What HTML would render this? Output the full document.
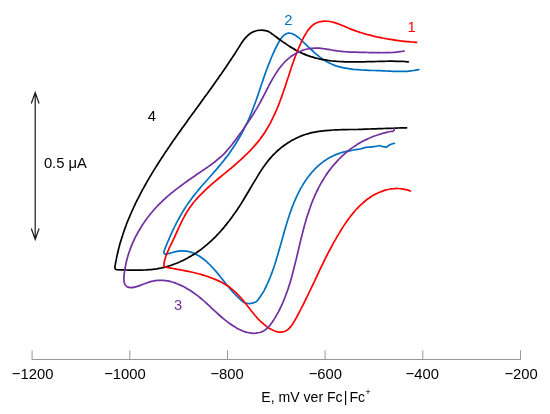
<!DOCTYPE html>
<html lang="en">
<head>
<meta charset="utf-8">
<title>Cyclic voltammograms</title>
<style>
html,body{margin:0;padding:0;background:#fff;}
body{width:550px;height:414px;overflow:hidden;font-family:"Liberation Sans",sans-serif;}
svg{display:block;}
text{font-family:"Liberation Sans",sans-serif;font-size:14.8px;fill:#000;}
.c{fill:none;stroke-width:1.7;stroke-linejoin:round;stroke-linecap:round;}
</style>
</head>
<body>
<svg width="550" height="414" viewBox="0 0 550 414">
<rect width="550" height="414" fill="#fff"/>
<!-- axis -->
<path d="M31.6 359.5H521M32.1 350.3V359.5M129.8 350.3V359.5M227.5 350.3V359.5M325.1 350.3V359.5M422.8 350.3V359.5M520.5 350.3V359.5" fill="none" stroke="#979797" stroke-width="1"/>
<g>
<text transform="translate(32.6 378.8) scale(1 1.05)" text-anchor="middle">−1200</text>
<text transform="translate(124.9 378.8) scale(1 1.05)" text-anchor="middle">−1000</text>
<text transform="translate(227.1 378.8) scale(1 1.05)" text-anchor="middle">−800</text>
<text transform="translate(325.3 378.8) scale(1 1.05)" text-anchor="middle">−600</text>
<text transform="translate(422.2 378.8) scale(1 1.05)" text-anchor="middle">−400</text>
<text transform="translate(521.1 378.8) scale(1 1.05)" text-anchor="middle">−200</text>
</g>
<text transform="translate(261.3 402.3) scale(1 1.05)" style="font-size:14.1px">E, mV ver Fc<tspan dx="1">|</tspan><tspan dx="2.1">Fc</tspan><tspan dx="0.2" dy="-6.5" style="font-size:9.5px">+</tspan></text>
<!-- scale arrow -->
<path d="M35.2 92.5V239.5M31.3 103.5L35.2 92.5L39.1 103.5M31.3 228.5L35.2 239.5L39.1 228.5" fill="none" stroke="#1a1a1a" stroke-width="1.2" stroke-linejoin="miter"/>
<text transform="translate(43.9 167.9) scale(1 1.05)">0.5 μA</text>
<!-- curves -->
<path class="c" stroke="#0070c0" d="M394.3 143.3C393.7 143.5 391.7 144.1 390.7 144.5C389.7 144.9 388.9 145.4 388.2 145.8C387.5 146.2 386.9 147.0 386.3 147.2C385.7 147.4 385.1 146.9 384.4 146.8C383.6 146.7 382.6 146.6 381.8 146.4C381.1 146.2 380.5 145.6 379.9 145.5C379.3 145.4 378.9 145.8 378.0 146.0C377.1 146.2 375.7 146.4 374.2 146.6C372.7 146.8 370.8 146.9 369.1 147.1C367.4 147.3 365.3 147.5 364.0 147.8C362.7 148.1 362.6 148.4 361.5 148.7C360.4 149.0 358.9 149.2 357.6 149.4C356.3 149.6 355.1 149.8 353.8 150.0C352.5 150.2 350.5 150.7 349.8 150.8C349.1 150.9 346.8 151.3 345.4 151.6C344.0 152.0 342.6 152.3 341.2 152.7C339.9 153.2 338.5 153.6 337.2 154.1C335.9 154.6 334.7 155.1 333.4 155.7C332.2 156.3 331.0 156.9 329.8 157.6C328.6 158.2 327.4 158.9 326.3 159.6C325.2 160.4 324.1 161.1 323.0 161.9C321.9 162.7 320.9 163.5 319.9 164.4C318.9 165.2 317.9 166.1 316.9 167.0C316.0 168.0 315.0 168.9 314.1 169.9C313.2 170.8 312.3 171.8 311.4 172.8C310.6 173.9 309.7 174.9 308.9 176.0C308.1 177.0 307.3 178.1 306.5 179.2C305.7 180.3 305.0 181.5 304.3 182.6C303.5 183.7 302.8 184.9 302.1 186.1C301.4 187.2 300.8 188.4 300.1 189.6C299.5 190.8 298.9 192.0 298.2 193.3C297.6 194.5 297.0 195.7 296.5 197.0C295.9 198.2 295.3 199.5 294.8 200.7C294.3 202.0 293.7 203.3 293.2 204.6C292.7 205.8 292.2 207.1 291.7 208.4C291.3 209.7 290.8 211.0 290.3 212.3C289.9 213.6 289.4 214.9 289.0 216.2C288.6 217.6 288.1 218.9 287.7 220.2C287.3 221.5 286.9 222.8 286.5 224.2C286.1 225.5 285.7 226.8 285.3 228.2C284.9 229.5 284.5 230.9 284.1 232.2C283.8 233.5 283.4 234.9 283.0 236.2C282.6 237.6 282.3 238.9 281.9 240.2C281.5 241.6 281.1 242.9 280.8 244.3C280.4 245.6 280.0 247.0 279.6 248.3C279.2 249.6 278.9 251.0 278.5 252.3C278.1 253.6 277.7 255.0 277.3 256.3C276.9 257.6 276.5 258.9 276.1 260.3C275.7 261.6 275.3 262.9 274.9 264.2C274.4 265.5 274.0 266.8 273.6 268.1C273.1 269.4 272.7 270.7 272.2 272.0C271.7 273.3 271.2 274.5 270.8 275.8C270.3 277.1 269.8 278.3 269.2 279.6C268.7 280.8 268.2 282.1 267.6 283.3C267.1 284.6 266.5 285.8 265.9 287.0C265.3 288.2 264.4 290.0 264.1 290.6C263.5 291.6 261.7 294.5 260.5 296.3C259.3 298.1 258.0 300.2 256.7 301.3C255.4 302.4 253.9 302.7 252.5 303.1C251.1 303.5 249.6 303.6 248.1 303.5C246.6 303.4 245.1 303.0 243.7 302.2C242.3 301.4 240.2 299.2 239.5 298.6C239.0 298.1 237.5 296.7 236.5 295.8C235.5 294.8 234.5 293.8 233.5 292.7C232.6 291.7 231.6 290.6 230.7 289.5C229.7 288.4 228.8 287.3 227.9 286.2C227.0 285.1 226.1 284.0 225.2 282.8C224.3 281.7 223.3 280.5 222.4 279.4C221.5 278.2 220.6 277.1 219.7 275.9C218.8 274.8 217.9 273.7 216.9 272.5C216.0 271.4 215.0 270.3 214.1 269.2C213.1 268.2 212.2 267.1 211.2 266.1C210.2 265.0 209.2 264.0 208.1 263.1C207.1 262.1 206.1 261.1 205.0 260.3C203.9 259.4 202.8 258.5 201.6 257.7C200.5 256.9 199.3 256.1 198.1 255.4C196.9 254.7 195.7 254.1 194.4 253.5C193.2 253.0 191.9 252.5 190.6 252.1C189.2 251.7 187.9 251.3 186.5 251.1C185.1 250.9 183.7 250.8 182.3 250.8C180.9 250.8 179.4 251.0 177.9 251.2C176.5 251.5 175.0 251.9 173.6 252.2C172.1 252.6 170.7 253.0 169.3 253.4C167.9 253.7 165.9 254.1 165.2 254.3C165.0 254.2 164.4 253.9 164.2 253.4C164.0 252.9 163.9 251.8 163.9 251.5C164.1 250.9 164.9 249.0 165.3 247.8C165.8 246.6 166.3 245.3 166.8 244.1C167.3 242.8 167.9 241.6 168.4 240.4C168.9 239.1 169.4 237.9 170.0 236.6C170.5 235.4 171.1 234.2 171.7 232.9C172.2 231.7 172.8 230.5 173.4 229.2C174.0 228.0 174.6 226.8 175.2 225.5C175.8 224.3 176.4 223.1 177.0 221.9C177.7 220.7 178.3 219.5 179.0 218.3C179.6 217.1 180.3 215.9 181.0 214.7C181.6 213.5 182.3 212.4 183.0 211.2C183.8 210.0 184.5 208.9 185.2 207.8C185.9 206.6 186.7 205.5 187.4 204.4C188.2 203.2 189.0 202.1 189.8 201.0C190.6 199.9 191.4 198.9 192.2 197.8C193.0 196.7 193.8 195.6 194.7 194.6C195.5 193.5 196.3 192.5 197.2 191.5C198.1 190.4 198.9 189.4 199.8 188.4C200.7 187.3 201.5 186.3 202.4 185.3C203.3 184.3 204.2 183.3 205.1 182.3C206.0 181.2 206.9 180.2 207.8 179.2C208.7 178.2 209.6 177.2 210.4 176.2C211.3 175.2 212.2 174.2 213.1 173.2C214.0 172.2 214.9 171.2 215.8 170.1C216.7 169.1 217.6 168.1 218.4 167.1C219.3 166.0 220.2 165.0 221.0 164.0C221.9 162.9 222.7 161.9 223.6 160.8C224.4 159.8 225.3 158.7 226.1 157.6C226.9 156.5 227.7 155.5 228.5 154.4C229.3 153.3 230.1 152.2 230.9 151.0C231.6 149.9 232.4 148.8 233.1 147.7C233.9 146.5 234.6 145.4 235.4 144.2C236.1 143.1 236.8 141.9 237.5 140.8C238.2 139.6 238.9 138.4 239.6 137.2C240.2 136.1 240.9 134.9 241.6 133.7C242.2 132.5 242.8 131.3 243.5 130.1C244.1 128.9 244.7 127.7 245.3 126.4C245.9 125.2 246.5 124.0 247.1 122.8C247.6 121.6 248.2 120.3 248.8 119.1C249.3 117.9 249.8 116.6 250.4 115.4C250.9 114.1 251.4 112.9 251.9 111.6C252.4 110.4 252.9 109.2 253.3 107.9C253.8 106.6 254.3 105.4 254.7 104.1C255.2 102.9 255.6 101.6 256.1 100.3C256.5 99.1 257.0 97.8 257.4 96.6C257.9 95.3 258.3 94.0 258.7 92.7C259.1 91.5 259.6 90.2 260.0 88.9C260.4 87.7 260.9 86.4 261.3 85.1C261.7 83.8 262.2 82.5 262.6 81.3C263.0 80.0 263.5 78.7 263.9 77.4C264.3 76.2 264.8 74.9 265.2 73.6C265.7 72.3 266.2 71.0 266.6 69.8C267.1 68.5 267.6 67.2 268.1 65.9C268.5 64.6 269.0 63.4 269.6 62.1C270.1 60.8 270.6 59.5 271.1 58.2C271.7 57.0 272.2 55.7 272.8 54.4C273.3 53.1 273.9 51.9 274.5 50.6C275.1 49.3 275.7 48.0 276.4 46.8C277.0 45.5 277.6 44.2 278.3 43.0C279.0 41.8 279.7 40.5 280.4 39.4C281.2 38.3 281.9 37.2 282.8 36.4C283.6 35.5 284.5 34.7 285.4 34.2C286.3 33.6 287.3 33.2 288.4 33.1C289.4 33.0 290.6 33.2 291.7 33.5C292.9 33.9 294.1 34.5 295.2 35.2C296.4 35.8 297.5 36.8 298.6 37.7C299.7 38.6 300.8 39.6 301.8 40.6C302.9 41.6 303.9 42.6 304.9 43.6C306.0 44.6 307.0 45.6 308.0 46.6C309.0 47.5 310.0 48.5 311.1 49.5C312.1 50.4 313.1 51.3 314.1 52.3C315.1 53.2 316.2 54.1 317.2 54.9C318.2 55.8 319.3 56.6 320.3 57.4C321.4 58.2 322.5 59.0 323.6 59.7C324.7 60.4 325.8 61.1 326.9 61.8C328.0 62.4 329.2 63.0 330.4 63.6C331.5 64.1 332.7 64.6 334.0 65.1C335.2 65.6 336.5 66.0 337.7 66.4C339.0 66.8 340.3 67.1 341.6 67.4C342.9 67.7 344.2 68.0 345.5 68.2C346.9 68.5 348.2 68.7 349.6 68.9C350.9 69.1 352.3 69.2 353.7 69.4C355.1 69.5 356.5 69.6 357.8 69.7C359.2 69.8 360.6 69.9 362.0 70.0C363.4 70.1 364.8 70.1 366.2 70.2C367.6 70.3 369.0 70.3 370.4 70.4C371.8 70.4 373.2 70.4 374.6 70.5C375.9 70.5 377.3 70.6 378.7 70.6C380.0 70.7 381.4 70.7 382.7 70.8C384.1 70.9 385.4 70.9 386.7 71.0C388.0 71.1 389.4 71.1 390.7 71.2C392.0 71.3 393.3 71.3 394.6 71.4C395.9 71.4 397.2 71.4 398.6 71.4C399.9 71.4 401.2 71.4 402.5 71.4C403.8 71.4 405.2 71.3 406.5 71.3C407.8 71.2 409.2 71.1 410.5 70.9C411.9 70.8 413.2 70.6 414.6 70.4C416.0 70.2 418.1 69.8 418.8 69.7"/>
<path class="c" stroke="#000" d="M406.6 127.8C405.9 127.8 403.9 127.9 402.5 127.9C401.1 127.9 399.8 128.0 398.4 128.0C397.1 128.1 395.7 128.1 394.4 128.2C393.0 128.2 391.7 128.3 390.3 128.3C389.0 128.4 387.6 128.4 386.3 128.4C385.0 128.5 383.6 128.5 382.3 128.6C380.9 128.6 379.6 128.7 378.3 128.7C376.9 128.8 375.6 128.8 374.2 128.9C372.9 128.9 371.6 129.0 370.2 129.0C368.9 129.1 367.5 129.1 366.2 129.1C364.8 129.2 363.5 129.2 362.1 129.3C360.8 129.3 359.4 129.3 358.1 129.4C356.7 129.4 355.4 129.4 354.0 129.5C352.6 129.5 351.3 129.5 349.9 129.5C348.5 129.6 347.2 129.6 345.8 129.6C344.4 129.6 343.0 129.7 341.6 129.7C340.3 129.7 338.9 129.8 337.5 129.8C336.1 129.9 334.8 129.9 333.4 130.0C332.0 130.1 330.6 130.2 329.3 130.3C327.9 130.4 326.5 130.5 325.2 130.6C323.8 130.7 322.4 130.9 321.1 131.1C319.8 131.3 318.4 131.5 317.1 131.7C315.7 131.9 314.4 132.2 313.1 132.4C311.8 132.7 310.5 133.0 309.2 133.4C307.9 133.7 306.6 134.1 305.3 134.5C304.1 134.9 302.8 135.4 301.5 135.9C300.3 136.3 299.1 136.9 297.8 137.4C296.6 138.0 295.4 138.5 294.2 139.2C293.1 139.8 291.9 140.4 290.7 141.1C289.6 141.8 288.4 142.5 287.3 143.2C286.2 143.9 285.1 144.7 284.0 145.5C282.9 146.3 281.9 147.1 280.9 147.9C279.8 148.8 278.8 149.6 277.8 150.5C276.8 151.4 275.8 152.3 274.9 153.3C274.0 154.2 273.0 155.2 272.1 156.1C271.2 157.1 270.4 158.1 269.5 159.1C268.7 160.2 267.8 161.2 267.0 162.2C266.2 163.3 265.4 164.4 264.6 165.5C263.8 166.5 263.0 167.6 262.3 168.8C261.5 169.9 260.8 171.0 260.1 172.1C259.3 173.3 258.6 174.4 257.9 175.6C257.2 176.7 256.5 177.9 255.8 179.1C255.1 180.2 254.4 181.4 253.7 182.6C253.0 183.8 252.3 184.9 251.6 186.1C250.9 187.3 250.2 188.5 249.5 189.7C248.8 190.9 248.1 192.1 247.4 193.3C246.7 194.5 246.0 195.6 245.3 196.8C244.6 198.0 243.9 199.2 243.2 200.3C242.5 201.5 241.7 202.7 241.0 203.9C240.3 205.0 239.5 206.2 238.8 207.3C238.0 208.5 237.2 209.6 236.5 210.7C235.7 211.9 234.9 213.0 234.1 214.1C233.3 215.2 232.5 216.3 231.7 217.4C230.9 218.5 230.1 219.6 229.3 220.7C228.4 221.8 227.6 222.9 226.8 223.9C225.9 225.0 225.0 226.0 224.2 227.1C223.3 228.1 222.4 229.2 221.5 230.2C220.6 231.2 219.7 232.2 218.8 233.2C217.9 234.2 217.0 235.1 216.1 236.1C215.1 237.1 214.2 238.0 213.2 238.9C212.2 239.9 211.3 240.8 210.3 241.7C209.3 242.6 208.3 243.5 207.3 244.4C206.3 245.2 205.2 246.1 204.2 246.9C203.2 247.8 202.1 248.6 201.1 249.4C200.0 250.2 198.9 251.0 197.8 251.7C196.7 252.5 195.6 253.2 194.5 254.0C193.4 254.7 192.2 255.4 191.1 256.1C189.9 256.8 188.8 257.4 187.6 258.1C186.4 258.7 185.2 259.4 184.0 260.0C182.8 260.6 181.6 261.1 180.3 261.7C179.1 262.2 177.8 262.8 176.6 263.3C175.3 263.8 174.0 264.3 172.8 264.7C171.5 265.2 170.2 265.6 168.9 266.0C167.6 266.4 166.3 266.7 165.0 267.1C163.7 267.4 162.3 267.7 161.0 268.0C159.7 268.3 158.3 268.5 157.0 268.8C155.7 269.0 154.3 269.2 153.0 269.3C151.6 269.5 150.3 269.6 148.9 269.7C147.6 269.8 146.2 269.9 144.9 270.0C143.5 270.1 142.2 270.1 140.8 270.1C139.5 270.2 138.1 270.2 136.8 270.2C135.4 270.2 134.0 270.2 132.7 270.1C131.3 270.1 130.0 270.1 128.6 270.1C127.3 270.0 125.9 270.0 124.6 269.9C123.2 269.9 121.9 269.8 120.5 269.8C119.2 269.7 117.2 269.6 116.5 269.6C116.3 269.5 115.6 269.3 115.3 268.9C115.0 268.5 115.0 267.6 114.9 267.4C115.0 266.7 115.3 264.7 115.5 263.4C115.8 262.0 116.0 260.7 116.3 259.4C116.5 258.1 116.8 256.7 117.1 255.4C117.4 254.1 117.7 252.8 118.0 251.5C118.3 250.1 118.6 248.8 119.0 247.5C119.3 246.2 119.7 244.9 120.0 243.6C120.4 242.3 120.8 241.0 121.2 239.7C121.6 238.4 122.0 237.1 122.4 235.9C122.8 234.6 123.2 233.3 123.7 232.0C124.1 230.7 124.6 229.5 125.0 228.2C125.5 226.9 126.0 225.7 126.4 224.4C126.9 223.1 127.4 221.9 127.9 220.6C128.4 219.4 129.0 218.1 129.5 216.9C130.0 215.6 130.5 214.4 131.1 213.1C131.6 211.9 132.2 210.6 132.8 209.4C133.3 208.2 133.9 206.9 134.5 205.7C135.0 204.5 135.6 203.3 136.2 202.0C136.8 200.8 137.4 199.6 138.1 198.4C138.7 197.2 139.3 196.0 139.9 194.8C140.6 193.5 141.2 192.3 141.8 191.1C142.5 189.9 143.1 188.7 143.8 187.6C144.4 186.4 145.1 185.2 145.8 184.0C146.4 182.8 147.1 181.6 147.8 180.4C148.5 179.3 149.2 178.1 149.9 176.9C150.6 175.7 151.3 174.6 152.0 173.4C152.7 172.2 153.4 171.1 154.1 169.9C154.8 168.8 155.5 167.6 156.3 166.4C157.0 165.3 157.7 164.1 158.4 163.0C159.2 161.9 159.9 160.7 160.6 159.6C161.4 158.4 162.1 157.3 162.9 156.2C163.6 155.0 164.3 153.9 165.1 152.8C165.8 151.7 166.6 150.5 167.4 149.4C168.1 148.3 168.9 147.2 169.6 146.1C170.4 144.9 171.2 143.8 171.9 142.7C172.7 141.6 173.5 140.5 174.2 139.4C175.0 138.3 175.8 137.2 176.6 136.1C177.3 135.0 178.1 133.9 178.9 132.8C179.7 131.7 180.5 130.6 181.2 129.5C182.0 128.4 182.8 127.3 183.6 126.2C184.4 125.1 185.2 124.0 186.0 122.9C186.8 121.8 187.5 120.7 188.3 119.6C189.1 118.5 189.9 117.4 190.7 116.3C191.5 115.2 192.3 114.1 193.1 113.0C193.9 111.9 194.7 110.9 195.5 109.8C196.3 108.7 197.1 107.6 197.9 106.5C198.7 105.4 199.5 104.3 200.3 103.2C201.1 102.1 201.8 101.0 202.6 99.9C203.4 98.8 204.2 97.7 205.0 96.6C205.8 95.5 206.6 94.5 207.4 93.4C208.2 92.3 209.0 91.2 209.8 90.1C210.6 89.0 211.4 87.9 212.2 86.7C212.9 85.6 213.7 84.5 214.5 83.4C215.3 82.3 216.1 81.2 216.9 80.1C217.7 79.0 218.4 77.9 219.2 76.8C220.0 75.7 220.8 74.5 221.6 73.4C222.3 72.3 223.1 71.2 223.9 70.1C224.7 68.9 225.4 67.8 226.2 66.7C227.0 65.5 227.7 64.4 228.5 63.3C229.2 62.1 230.0 61.0 230.8 59.8C231.5 58.7 232.3 57.6 233.0 56.4C233.8 55.3 234.5 54.1 235.3 53.0C236.0 51.8 236.8 50.6 237.5 49.5C238.2 48.3 239.0 47.1 239.7 46.0C240.4 44.8 241.2 43.6 241.9 42.5C242.7 41.4 243.5 40.3 244.3 39.2C245.2 38.2 246.0 37.2 246.9 36.3C247.9 35.4 248.8 34.5 249.9 33.7C251.0 33.0 252.1 32.3 253.3 31.8C254.5 31.3 255.9 30.8 257.2 30.5C258.6 30.3 260.1 30.1 261.5 30.1C262.9 30.1 264.4 30.2 265.7 30.6C267.0 30.9 268.3 31.5 269.4 32.1C270.6 32.7 271.6 33.6 272.7 34.4C273.8 35.1 274.8 36.0 275.9 36.8C277.0 37.6 278.1 38.4 279.2 39.2C280.3 40.0 281.4 40.8 282.5 41.6C283.6 42.4 284.7 43.1 285.9 43.9C287.0 44.7 288.1 45.4 289.3 46.2C290.4 46.9 291.6 47.6 292.8 48.3C293.9 49.0 295.1 49.7 296.3 50.4C297.5 51.0 298.7 51.6 299.9 52.2C301.1 52.8 302.3 53.4 303.6 53.9C304.8 54.4 306.0 54.9 307.3 55.4C308.5 55.8 309.8 56.3 311.1 56.7C312.4 57.1 313.6 57.5 314.9 57.8C316.2 58.1 317.5 58.5 318.8 58.8C320.1 59.0 321.4 59.3 322.7 59.6C324.1 59.8 325.4 60.0 326.7 60.2C328.0 60.4 329.4 60.6 330.7 60.8C332.1 60.9 333.4 61.1 334.8 61.2C336.1 61.3 337.5 61.4 338.8 61.5C340.2 61.6 341.6 61.7 342.9 61.7C344.3 61.8 345.7 61.8 347.1 61.9C348.4 61.9 349.8 61.9 351.2 61.9C352.6 61.9 353.9 61.9 355.3 61.9C356.7 61.9 358.1 61.9 359.5 61.9C360.9 61.9 362.2 61.9 363.6 61.8C365.0 61.8 366.4 61.8 367.8 61.7C369.2 61.7 370.5 61.6 371.9 61.6C373.3 61.6 374.7 61.5 376.1 61.5C377.4 61.5 378.8 61.4 380.2 61.4C381.6 61.3 382.9 61.3 384.3 61.3C385.7 61.3 387.0 61.2 388.4 61.2C389.7 61.2 391.1 61.2 392.4 61.2C393.8 61.2 395.1 61.2 396.5 61.3C397.8 61.3 399.1 61.3 400.4 61.4C401.8 61.4 403.1 61.5 404.4 61.5C405.7 61.6 407.6 61.8 408.3 61.8"/>
<path class="c" stroke="#ff0000" d="M410.4 191.0C409.7 190.8 407.7 190.0 406.4 189.7C405.1 189.3 403.7 189.0 402.4 188.8C401.0 188.6 399.7 188.5 398.3 188.5C397.0 188.4 395.7 188.5 394.3 188.6C393.0 188.6 391.7 188.8 390.3 189.0C389.0 189.2 387.7 189.5 386.4 189.9C385.1 190.2 383.8 190.6 382.6 191.1C381.3 191.5 380.1 192.0 378.8 192.5C377.6 193.1 376.4 193.7 375.2 194.3C374.0 194.9 372.9 195.6 371.8 196.3C370.6 197.0 369.5 197.8 368.4 198.5C367.3 199.3 366.3 200.1 365.2 201.0C364.2 201.8 363.2 202.7 362.2 203.6C361.2 204.5 360.2 205.4 359.2 206.4C358.3 207.3 357.3 208.3 356.4 209.3C355.5 210.3 354.6 211.3 353.7 212.4C352.8 213.4 352.0 214.5 351.1 215.5C350.3 216.6 349.4 217.7 348.6 218.8C347.8 219.9 347.0 221.0 346.2 222.2C345.4 223.3 344.7 224.5 343.9 225.6C343.1 226.8 342.4 227.9 341.7 229.1C340.9 230.2 340.2 231.4 339.5 232.6C338.8 233.7 338.1 234.9 337.4 236.1C336.7 237.3 336.0 238.4 335.4 239.6C334.7 240.8 334.0 242.0 333.4 243.1C332.7 244.3 332.1 245.5 331.5 246.7C330.8 247.9 330.2 249.1 329.6 250.3C328.9 251.4 328.3 252.6 327.7 253.8C327.1 255.0 326.5 256.2 325.9 257.4C325.3 258.6 324.7 259.8 324.1 261.0C323.5 262.2 323.0 263.4 322.4 264.6C321.8 265.8 321.2 267.0 320.6 268.2C320.1 269.4 319.5 270.6 318.9 271.8C318.3 273.1 317.8 274.3 317.2 275.5C316.6 276.7 316.1 277.9 315.5 279.1C314.9 280.3 314.3 281.6 313.8 282.8C313.2 284.0 312.6 285.2 312.0 286.4C311.5 287.7 310.9 288.9 310.3 290.1C309.7 291.3 309.1 292.6 308.5 293.8C307.9 295.0 307.3 296.2 306.7 297.5C306.1 298.7 305.5 299.9 304.9 301.2C304.3 302.4 303.7 303.6 303.1 304.8C302.5 306.1 301.8 307.3 301.2 308.6C300.5 309.8 299.9 311.0 299.2 312.3C298.6 313.5 297.9 314.7 297.3 316.0C296.6 317.2 295.9 318.5 295.2 319.7C294.5 320.9 293.8 322.2 293.1 323.3C292.3 324.5 291.6 325.6 290.7 326.6C289.9 327.6 289.0 328.6 288.1 329.4C287.2 330.1 286.2 330.8 285.1 331.3C284.0 331.7 282.9 332.0 281.7 332.1C280.5 332.2 279.2 332.1 277.9 331.9C276.6 331.6 275.3 331.2 274.0 330.7C272.8 330.2 271.5 329.6 270.4 328.9C269.2 328.2 268.0 327.5 266.9 326.7C265.8 325.9 264.7 325.1 263.7 324.2C262.7 323.3 261.7 322.4 260.7 321.5C259.7 320.5 258.8 319.6 257.8 318.6C256.9 317.5 256.0 316.5 255.1 315.5C254.2 314.4 253.3 313.3 252.5 312.3C251.6 311.2 250.8 310.1 249.9 309.0C249.0 307.9 248.2 306.8 247.3 305.7C246.5 304.6 245.6 303.5 244.8 302.5C243.9 301.4 243.1 300.3 242.2 299.3C241.3 298.2 240.4 297.2 239.5 296.2C238.6 295.2 237.6 294.2 236.7 293.3C235.7 292.3 234.7 291.4 233.7 290.6C232.7 289.7 231.7 288.9 230.6 288.1C229.6 287.3 228.5 286.5 227.4 285.8C226.3 285.0 225.1 284.4 224.0 283.7C222.8 283.0 221.6 282.4 220.4 281.8C219.3 281.2 218.0 280.6 216.8 280.1C215.6 279.5 214.3 279.0 213.1 278.5C211.8 278.0 210.6 277.5 209.3 277.1C208.0 276.6 206.7 276.2 205.4 275.8C204.1 275.4 202.8 275.0 201.4 274.6C200.1 274.2 198.8 273.9 197.5 273.5C196.1 273.2 194.8 272.9 193.4 272.5C192.1 272.2 190.8 271.9 189.4 271.6C188.1 271.3 186.7 271.1 185.4 270.8C184.0 270.5 182.7 270.3 181.3 270.0C180.0 269.8 178.7 269.5 177.3 269.3C176.0 269.0 174.7 268.8 173.4 268.5C172.1 268.3 170.8 268.1 169.5 267.8C168.2 267.6 166.2 267.2 165.6 267.1C165.4 267.0 164.6 266.9 164.3 266.5C164.0 266.1 164.0 265.2 163.9 265.0C164.0 264.3 164.2 262.3 164.5 261.0C164.8 259.7 165.2 258.4 165.5 257.2C165.9 255.9 166.4 254.7 166.9 253.5C167.4 252.3 167.9 251.0 168.5 249.8C169.0 248.6 169.6 247.4 170.2 246.2C170.8 245.0 171.4 243.8 171.9 242.6C172.5 241.4 173.1 240.2 173.7 238.9C174.3 237.7 174.8 236.5 175.4 235.2C176.0 234.0 176.5 232.7 177.1 231.5C177.7 230.2 178.2 228.9 178.8 227.7C179.4 226.4 180.0 225.2 180.6 223.9C181.1 222.7 181.7 221.5 182.4 220.2C183.0 219.0 183.6 217.8 184.3 216.6C184.9 215.4 185.6 214.2 186.3 213.0C187.0 211.9 187.7 210.7 188.4 209.6C189.1 208.5 189.9 207.4 190.7 206.3C191.5 205.2 192.3 204.2 193.1 203.1C193.9 202.1 194.8 201.0 195.7 200.0C196.5 199.0 197.4 198.0 198.3 197.1C199.2 196.1 200.2 195.1 201.1 194.2C202.0 193.2 203.0 192.3 204.0 191.3C204.9 190.4 205.9 189.5 206.9 188.6C207.9 187.7 208.9 186.8 209.9 185.9C210.9 185.0 211.9 184.1 212.9 183.2C214.0 182.4 215.0 181.5 216.0 180.6C217.1 179.8 218.1 178.9 219.1 178.0C220.2 177.2 221.2 176.3 222.3 175.4C223.3 174.6 224.4 173.7 225.4 172.9C226.5 172.0 227.5 171.1 228.5 170.3C229.6 169.4 230.6 168.5 231.7 167.7C232.7 166.8 233.7 165.9 234.7 165.0C235.8 164.2 236.8 163.3 237.8 162.4C238.8 161.5 239.8 160.6 240.8 159.7C241.8 158.8 242.8 157.9 243.8 156.9C244.7 156.0 245.7 155.1 246.7 154.2C247.6 153.2 248.6 152.3 249.5 151.3C250.4 150.4 251.3 149.4 252.2 148.4C253.1 147.4 254.0 146.4 254.9 145.4C255.8 144.4 256.7 143.4 257.5 142.4C258.3 141.4 259.2 140.3 260.0 139.3C260.8 138.2 261.6 137.1 262.3 136.0C263.1 134.9 263.9 133.8 264.6 132.7C265.3 131.6 266.0 130.5 266.7 129.3C267.4 128.2 268.1 127.0 268.8 125.8C269.4 124.6 270.1 123.5 270.7 122.3C271.3 121.1 271.9 119.8 272.5 118.6C273.1 117.4 273.7 116.2 274.3 114.9C274.9 113.7 275.4 112.5 276.0 111.2C276.5 109.9 277.0 108.7 277.6 107.4C278.1 106.2 278.6 104.9 279.1 103.6C279.6 102.3 280.1 101.1 280.5 99.8C281.0 98.5 281.5 97.2 281.9 95.9C282.4 94.6 282.9 93.3 283.3 92.1C283.7 90.8 284.2 89.5 284.6 88.2C285.1 86.9 285.5 85.6 285.9 84.3C286.3 83.1 286.7 81.8 287.1 80.5C287.6 79.2 288.0 77.9 288.4 76.7C288.8 75.4 289.2 74.1 289.6 72.9C290.0 71.6 290.4 70.3 290.9 69.1C291.3 67.8 291.7 66.5 292.1 65.3C292.6 64.0 293.0 62.7 293.5 61.5C293.9 60.2 294.4 59.0 294.8 57.7C295.3 56.4 295.8 55.2 296.3 53.9C296.7 52.7 297.2 51.4 297.8 50.2C298.3 48.9 298.8 47.7 299.4 46.4C299.9 45.2 300.5 43.9 301.1 42.6C301.7 41.4 302.3 40.1 302.9 38.9C303.6 37.6 304.2 36.4 304.9 35.2C305.6 34.0 306.3 32.8 307.1 31.6C307.9 30.5 308.7 29.4 309.5 28.4C310.4 27.4 311.3 26.5 312.2 25.6C313.2 24.8 314.2 24.1 315.2 23.5C316.3 22.9 317.4 22.4 318.6 22.0C319.8 21.7 321.0 21.4 322.2 21.3C323.5 21.1 324.7 21.0 326.0 21.1C327.3 21.1 328.6 21.3 329.9 21.5C331.2 21.7 332.6 22.0 333.9 22.4C335.2 22.8 336.5 23.2 337.8 23.7C339.1 24.2 340.4 24.7 341.8 25.2C343.1 25.8 344.4 26.3 345.7 26.9C347.0 27.5 348.3 28.0 349.6 28.6C350.9 29.1 352.2 29.6 353.5 30.1C354.7 30.6 356.0 31.0 357.3 31.5C358.6 31.9 359.8 32.3 361.1 32.7C362.4 33.1 363.6 33.5 364.9 33.9C366.2 34.2 367.5 34.6 368.7 34.9C370.0 35.2 371.3 35.5 372.6 35.9C373.9 36.2 375.2 36.5 376.5 36.8C377.8 37.0 379.1 37.3 380.5 37.6C381.8 37.9 383.1 38.1 384.4 38.4C385.8 38.6 387.1 38.9 388.4 39.1C389.8 39.3 391.1 39.5 392.4 39.7C393.8 40.0 395.1 40.2 396.5 40.3C397.8 40.5 399.2 40.7 400.5 40.9C401.8 41.0 403.2 41.2 404.5 41.3C405.9 41.5 407.2 41.6 408.6 41.7C409.9 41.8 411.3 42.0 412.6 42.0C413.9 42.1 415.9 42.3 416.6 42.3"/>
<path class="c" stroke="#7030a0" d="M394.4 128.5C394.4 128.8 394.4 129.6 394.2 130.0C394.0 130.4 393.9 130.8 393.3 131.1C392.7 131.3 391.1 131.4 390.7 131.5C390.1 131.6 388.1 132.0 386.8 132.3C385.5 132.6 384.2 133.0 383.0 133.3C381.7 133.7 380.4 134.1 379.1 134.5C377.8 134.9 376.5 135.3 375.3 135.8C374.0 136.2 372.7 136.7 371.5 137.2C370.2 137.8 369.0 138.3 367.8 138.9C366.5 139.4 365.3 140.0 364.1 140.6C362.9 141.3 361.7 141.9 360.5 142.6C359.3 143.2 358.2 143.9 357.0 144.6C355.9 145.4 354.7 146.1 353.6 146.9C352.5 147.6 351.4 148.4 350.3 149.2C349.3 150.0 348.2 150.9 347.2 151.7C346.1 152.6 345.1 153.4 344.1 154.3C343.1 155.2 342.1 156.1 341.1 157.1C340.2 158.0 339.2 158.9 338.3 159.9C337.4 160.9 336.5 161.9 335.6 162.9C334.7 163.9 333.8 164.9 332.9 165.9C332.1 166.9 331.3 168.0 330.4 169.1C329.6 170.1 328.8 171.2 328.0 172.3C327.3 173.4 326.5 174.5 325.7 175.6C325.0 176.7 324.3 177.8 323.6 179.0C322.9 180.1 322.2 181.3 321.5 182.4C320.8 183.6 320.2 184.8 319.6 185.9C318.9 187.1 318.3 188.3 317.7 189.5C317.1 190.7 316.5 191.9 316.0 193.1C315.4 194.3 314.9 195.5 314.3 196.8C313.8 198.0 313.3 199.2 312.8 200.4C312.3 201.7 311.8 202.9 311.3 204.2C310.9 205.4 310.4 206.7 310.0 208.0C309.5 209.2 309.1 210.5 308.7 211.8C308.2 213.0 307.8 214.3 307.4 215.6C307.0 216.9 306.6 218.2 306.2 219.5C305.9 220.7 305.5 222.0 305.1 223.3C304.7 224.6 304.4 225.9 304.0 227.2C303.7 228.6 303.3 229.9 303.0 231.2C302.7 232.5 302.3 233.8 302.0 235.1C301.7 236.4 301.3 237.7 301.0 239.1C300.7 240.4 300.4 241.7 300.0 243.0C299.7 244.3 299.4 245.7 299.1 247.0C298.8 248.3 298.5 249.6 298.2 250.9C297.9 252.3 297.5 253.6 297.2 254.9C296.9 256.2 296.6 257.5 296.3 258.9C296.0 260.2 295.6 261.5 295.3 262.8C295.0 264.1 294.7 265.4 294.3 266.8C294.0 268.1 293.7 269.4 293.3 270.7C293.0 272.0 292.7 273.3 292.3 274.6C292.0 275.9 291.6 277.2 291.2 278.5C290.9 279.8 290.5 281.1 290.1 282.4C289.7 283.6 289.3 284.9 288.9 286.2C288.5 287.5 288.1 288.7 287.7 290.0C287.2 291.3 286.8 292.5 286.3 293.8C285.9 295.0 285.4 296.3 284.9 297.5C284.4 298.8 283.9 300.0 283.4 301.2C282.9 302.5 282.4 303.7 281.8 304.9C281.2 306.1 280.7 307.3 280.1 308.5C279.5 309.7 278.9 310.9 278.3 312.1C277.6 313.3 277.0 314.4 276.3 315.6C275.6 316.8 274.9 317.9 274.2 319.1C273.5 320.2 272.8 321.4 272.0 322.5C271.2 323.6 270.4 324.7 269.6 325.8C268.7 326.8 267.8 327.8 266.8 328.7C265.9 329.6 264.8 330.4 263.6 331.0C262.5 331.6 261.2 332.1 259.9 332.5C258.6 332.8 257.2 333.0 255.8 333.2C254.4 333.3 253.0 333.3 251.6 333.2C250.3 333.0 248.9 332.8 247.6 332.5C246.3 332.2 245.0 331.8 243.7 331.4C242.5 330.9 241.2 330.4 240.0 329.8C238.8 329.2 237.6 328.6 236.4 327.9C235.3 327.2 234.1 326.5 233.0 325.8C231.9 325.1 230.8 324.3 229.7 323.5C228.6 322.8 227.5 322.0 226.5 321.1C225.4 320.3 224.4 319.5 223.4 318.6C222.4 317.8 221.3 316.9 220.3 316.0C219.3 315.1 218.3 314.2 217.4 313.3C216.4 312.4 215.4 311.5 214.4 310.6C213.4 309.7 212.4 308.8 211.4 307.8C210.5 306.9 209.5 306.0 208.5 305.1C207.5 304.2 206.5 303.3 205.5 302.4C204.5 301.5 203.5 300.6 202.4 299.7C201.4 298.8 200.4 298.0 199.3 297.1C198.3 296.3 197.2 295.4 196.1 294.6C195.0 293.8 193.9 293.0 192.8 292.2C191.7 291.4 190.5 290.7 189.4 290.0C188.2 289.3 187.1 288.6 185.9 287.9C184.7 287.2 183.5 286.6 182.3 286.0C181.1 285.4 179.9 284.9 178.7 284.4C177.5 283.8 176.2 283.4 175.0 282.9C173.8 282.5 172.5 282.1 171.3 281.8C170.0 281.4 168.7 281.2 167.4 280.9C166.2 280.7 164.9 280.5 163.6 280.4C162.3 280.3 160.9 280.3 159.6 280.3C158.3 280.4 156.9 280.5 155.6 280.6C154.2 280.8 152.9 281.1 151.5 281.4C150.1 281.7 148.7 282.2 147.3 282.7C145.9 283.2 144.5 283.8 143.1 284.3C141.7 284.8 140.3 285.4 138.9 285.9C137.5 286.4 136.1 286.9 134.8 287.1C133.4 287.4 132.1 287.6 130.9 287.6C129.6 287.5 128.3 287.3 127.4 286.9C126.4 286.4 125.7 285.7 125.2 284.9C124.6 284.1 124.3 283.0 124.1 281.9C123.9 280.7 123.9 279.5 123.9 278.2C123.9 276.9 124.1 275.5 124.2 274.1C124.4 272.8 124.6 271.4 124.8 270.0C125.0 268.7 125.2 267.3 125.5 266.0C125.7 264.7 126.0 263.3 126.3 262.0C126.6 260.7 127.0 259.4 127.3 258.0C127.7 256.7 128.1 255.4 128.5 254.1C128.9 252.8 129.3 251.5 129.8 250.3C130.3 249.0 130.7 247.7 131.2 246.4C131.7 245.2 132.3 243.9 132.8 242.7C133.4 241.4 133.9 240.2 134.5 239.0C135.1 237.8 135.7 236.5 136.4 235.3C137.0 234.1 137.6 232.9 138.3 231.8C139.0 230.6 139.7 229.4 140.4 228.3C141.1 227.1 141.8 225.9 142.5 224.8C143.3 223.7 144.1 222.6 144.8 221.4C145.6 220.3 146.4 219.2 147.2 218.2C148.0 217.1 148.8 216.0 149.7 215.0C150.5 213.9 151.4 212.9 152.3 211.8C153.1 210.8 154.0 209.8 154.9 208.8C155.8 207.8 156.7 206.8 157.6 205.8C158.6 204.9 159.5 203.9 160.5 203.0C161.4 202.1 162.4 201.1 163.3 200.2C164.3 199.3 165.3 198.4 166.3 197.5C167.3 196.6 168.3 195.8 169.3 194.9C170.3 194.0 171.3 193.2 172.4 192.3C173.4 191.5 174.4 190.7 175.5 189.8C176.5 189.0 177.6 188.2 178.7 187.4C179.7 186.6 180.8 185.8 181.9 185.0C182.9 184.2 184.0 183.4 185.1 182.6C186.2 181.8 187.3 181.1 188.4 180.3C189.5 179.5 190.6 178.7 191.7 178.0C192.8 177.2 193.9 176.4 195.0 175.7C196.1 174.9 197.2 174.2 198.3 173.4C199.5 172.7 200.6 171.9 201.7 171.1C202.8 170.4 203.9 169.6 205.0 168.9C206.2 168.1 207.3 167.3 208.4 166.6C209.5 165.8 210.6 165.0 211.7 164.2C212.7 163.4 213.8 162.6 214.9 161.8C215.9 160.9 217.0 160.1 218.0 159.2C219.0 158.4 220.1 157.5 221.0 156.6C222.0 155.7 223.0 154.8 224.0 153.8C224.9 152.9 225.8 151.9 226.7 150.9C227.6 149.9 228.5 148.9 229.4 147.8C230.2 146.8 231.1 145.7 231.9 144.7C232.7 143.6 233.5 142.5 234.4 141.4C235.2 140.4 236.0 139.3 236.8 138.2C237.6 137.1 238.3 136.0 239.1 134.9C239.9 133.8 240.7 132.8 241.5 131.7C242.2 130.6 243.0 129.5 243.8 128.4C244.5 127.3 245.3 126.2 246.0 125.1C246.8 124.0 247.5 123.0 248.3 121.9C249.0 120.8 249.8 119.6 250.5 118.5C251.2 117.4 251.9 116.3 252.6 115.2C253.3 114.1 254.1 112.9 254.7 111.8C255.4 110.7 256.1 109.5 256.8 108.4C257.5 107.2 258.2 106.0 258.8 104.9C259.5 103.7 260.2 102.5 260.8 101.3C261.4 100.1 262.1 98.9 262.7 97.7C263.4 96.5 264.0 95.2 264.6 94.0C265.2 92.8 265.9 91.6 266.5 90.3C267.1 89.1 267.8 87.9 268.4 86.7C269.0 85.4 269.7 84.2 270.3 83.0C271.0 81.8 271.6 80.6 272.3 79.4C273.0 78.2 273.7 77.0 274.4 75.9C275.1 74.7 275.8 73.6 276.5 72.4C277.3 71.3 278.0 70.2 278.8 69.1C279.6 68.1 280.4 67.0 281.2 66.0C282.1 65.0 282.9 64.0 283.8 63.0C284.7 62.0 285.6 61.1 286.6 60.2C287.6 59.3 288.5 58.4 289.6 57.6C290.6 56.8 291.7 56.0 292.8 55.3C293.9 54.6 295.0 53.9 296.2 53.2C297.3 52.6 298.5 52.0 299.8 51.5C301.0 50.9 302.2 50.5 303.5 50.0C304.8 49.6 306.1 49.3 307.4 49.0C308.7 48.7 310.0 48.5 311.3 48.3C312.6 48.2 314.0 48.1 315.3 48.1C316.6 48.1 318.0 48.1 319.3 48.2C320.7 48.3 322.0 48.5 323.4 48.7C324.8 48.8 326.1 49.0 327.5 49.3C328.8 49.5 330.2 49.7 331.6 50.0C332.9 50.2 334.3 50.4 335.6 50.6C337.0 50.9 338.3 51.0 339.7 51.2C341.0 51.4 342.4 51.5 343.7 51.6C345.0 51.7 346.4 51.8 347.7 51.9C349.0 52.0 350.4 52.1 351.7 52.1C353.0 52.2 354.4 52.2 355.7 52.2C357.0 52.3 358.4 52.3 359.7 52.3C361.0 52.4 362.4 52.4 363.7 52.4C365.0 52.4 366.4 52.5 367.7 52.5C369.1 52.5 370.4 52.6 371.7 52.6C373.1 52.6 374.4 52.7 375.8 52.7C377.1 52.7 378.5 52.7 379.8 52.7C381.2 52.8 382.5 52.8 383.9 52.7C385.2 52.7 386.6 52.7 387.9 52.7C389.3 52.6 390.6 52.6 392.0 52.5C393.3 52.4 394.7 52.3 396.0 52.2C397.3 52.0 398.7 51.9 400.0 51.7C401.3 51.5 403.3 51.2 404.0 51.1"/>
<!-- labels -->
<text transform="translate(411.5 31.8) scale(1 1.05)" text-anchor="middle" style="fill:#ff0000">1</text>
<text transform="translate(288.3 24.6) scale(1 1.05)" text-anchor="middle" style="fill:#0070c0">2</text>
<text transform="translate(178 310.2) scale(1 1.05)" text-anchor="middle" style="fill:#7030a0">3</text>
<text transform="translate(151.9 120.7) scale(1 1.05)" text-anchor="middle" style="fill:#000">4</text>
</svg>
</body>
</html>
